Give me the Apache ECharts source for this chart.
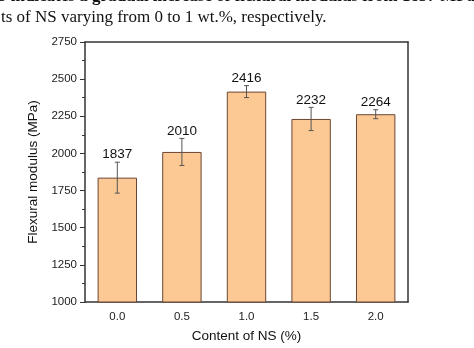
<!DOCTYPE html>
<html>
<head>
<meta charset="utf-8">
<script src="https://cdn.jsdelivr.net/npm/echarts@6/dist/echarts.min.js"></script>
<style>
  html, body { margin: 0; padding: 0; background: #fff; }
  #chart { width: 474px; height: 348px; }
</style>
</head>
<body>
<div id="chart"></div>
<script>
// Flexural modulus versus nano-silica content
const categories = ['0.0', '0.5', '1.0', '1.5', '2.0'];
const modulus = [1837, 2010, 2416, 2232, 2264];
const modulusError = [104, 91, 40, 78, 30];
const yTicks = { min: 1000, max: 2750, step: 250 };

const sansFont = '"Liberation Sans", Arial, Helvetica, sans-serif';
const serifFont = '"Liberation Serif", "Times New Roman", serif';
const axisColor = '#333';

const chart = echarts.init(document.getElementById('chart'), null, { renderer: 'canvas' });

const errorData = modulus.map((v, i) => [i, v, modulusError[i]]);

chart.setOption({
  animation: false,
  backgroundColor: '#fff',
  grid: { left: 85, right: 66, top: 42, bottom: 46 },
  graphic: [
    {
      type: 'text', left: -3, top: -12, silent: true,
      style: {
        text: 'b indicates a gradual increase of flexural modulus from 1837 MPa to 2416',
        font: 'bold 17px ' + serifFont, fill: '#111'
      }
    },
    {
      type: 'text', left: 1, top: 9, silent: true,
      style: {
        text: 'ts of NS varying from 0 to 1 wt.%, respectively.',
        font: '17px ' + serifFont, fill: '#111'
      }
    }
  ],
  xAxis: [
    {
      type: 'category', data: categories, position: 'bottom',
      name: 'Content of NS (%)', nameLocation: 'middle', nameGap: 27,
      nameTextStyle: { fontFamily: sansFont, fontSize: 13.5, color: '#111' },
      axisLine: { lineStyle: { color: axisColor, width: 1.5 } },
      axisTick: { alignWithLabel: true, length: 5, lineStyle: { color: axisColor, width: 1 } },
      axisLabel: { fontFamily: sansFont, fontSize: 11.5, color: '#222', margin: 9 },
      splitLine: { show: false }
    },
    {
      // boundary ticks between categories
      type: 'category', data: categories, position: 'bottom',
      axisLine: { show: false },
      axisTick: { length: 3, lineStyle: { color: axisColor, width: 1 } },
      axisLabel: { show: false }, splitLine: { show: false }
    },
    {
      // top frame
      type: 'category', data: categories, position: 'top',
      axisLine: { lineStyle: { color: axisColor, width: 1.5 } },
      axisTick: { show: false }, axisLabel: { show: false }, splitLine: { show: false }
    }
  ],
  yAxis: [
    {
      type: 'value', min: yTicks.min, max: yTicks.max, interval: yTicks.step,
      name: 'Flexural modulus (MPa)', nameLocation: 'middle', nameGap: 34,
      nameTextStyle: { fontFamily: sansFont, fontSize: 13.5, color: '#111' },
      axisLine: { show: true, lineStyle: { color: axisColor, width: 1.5 } },
      axisTick: { show: true, length: 5, lineStyle: { color: axisColor, width: 1 } },
      minorTick: { show: true, splitNumber: 2, length: 3, lineStyle: { color: axisColor, width: 1 } },
      axisLabel: {
        fontFamily: sansFont, fontSize: 11.5, color: '#222', margin: 8,
        formatter: (v) => String(v)
      },
      splitLine: { show: false }
    },
    {
      // right frame
      type: 'value', min: yTicks.min, max: yTicks.max, position: 'right',
      axisLine: { show: true, lineStyle: { color: axisColor, width: 1.5 } },
      axisTick: { show: false }, axisLabel: { show: false }, splitLine: { show: false }
    }
  ],
  series: [
    {
      type: 'bar', data: modulus, barWidth: '61%',
      itemStyle: { color: '#FCC893', borderColor: '#6b4632', borderWidth: 1 }
    },
    {
      type: 'custom', data: errorData, z: 10,
      renderItem: function (params, api) {
        const i = api.value(0), v = api.value(1), e = api.value(2);
        const top = api.coord([i, v + e]);
        const bot = api.coord([i, v - e]);
        const mid = api.coord([i, v]);
        const cap = 2.5;
        const ls = { stroke: '#555', lineWidth: 1 };
        return {
          type: 'group',
          children: [
            { type: 'line', shape: { x1: top[0], y1: top[1], x2: bot[0], y2: bot[1] }, style: ls },
            { type: 'line', shape: { x1: top[0] - cap, y1: top[1], x2: top[0] + cap, y2: top[1] }, style: ls },
            { type: 'line', shape: { x1: bot[0] - cap, y1: bot[1], x2: bot[0] + cap, y2: bot[1] }, style: ls },
            {
              type: 'text', x: mid[0], y: top[1] - 7.5,
              style: {
                text: String(v), font: '13.5px ' + sansFont, fill: '#111',
                textAlign: 'center', textVerticalAlign: 'middle'
              }
            }
          ]
        };
      }
    }
  ]
});
</script>
</body>
</html>
